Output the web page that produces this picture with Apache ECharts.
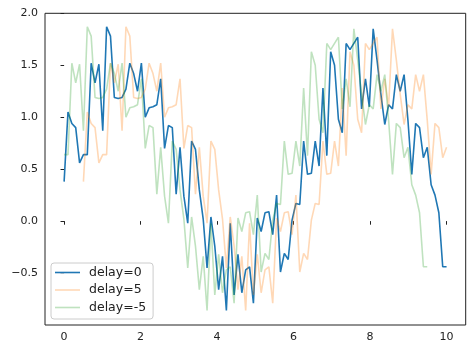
<!DOCTYPE html>
<html>
<head>
<meta charset="utf-8">
<script src="https://cdn.jsdelivr.net/npm/echarts@6/dist/echarts.min.js"></script>
<style>
  html, body { margin: 0; padding: 0; background: #fff; }
  #chart { width: 474px; height: 354px; }
</style>
</head>
<body>
<div id="chart"></div>
<script>
var sampleCount = 100;
var xStart = 0;
var xEnd = 10;

var signal = [
  0.38, 1.05, 0.94, 0.90, 0.56, 0.64, 0.64, 1.52, 1.33, 1.51,
  0.87, 1.87, 1.78, 1.19, 1.18, 1.19, 1.27, 1.52, 1.42, 1.25,
  1.52, 1.00, 1.09, 1.10, 1.12, 1.37, 0.70, 0.92, 0.90, 0.26,
  0.71, 0.24, -0.02, 0.77, 0.69, 0.30, 0.02, -0.45, 0.04, -0.24,
  -0.66, -0.34, -0.86, -0.02, -0.71, -0.32, -0.69, -0.47, -0.44, -0.79,
  0.03, -0.10, 0.08, 0.09, -0.13, 0.25, -0.49, -0.31, -0.37, 0.01,
  0.17, 0.16, 0.77, 0.45, 0.46, 0.77, 0.53, 1.28, 0.63, 1.63,
  1.50, 0.98, 0.85, 1.71, 1.65, 1.71, 1.77, 1.08, 1.37, 1.10,
  1.85, 1.55, 1.22, 0.93, 1.12, 1.08, 1.41, 1.25, 1.41, 0.97,
  0.45, 0.94, 0.90, 0.61, 0.71, 0.35, 0.25, 0.08, -0.44, -0.44
];

var delays = [0, 5, -5];
var seriesNames = ['delay=0', 'delay=5', 'delay=-5'];
var seriesColors = ['#1f77b4', 'rgba(255,127,14,0.3)', 'rgba(44,160,44,0.3)'];

var xTicks = [0, 2, 4, 6, 8, 10];
var yTicks = [-0.5, 0, 0.5, 1, 1.5, 2];

var xs = [];
for (var i = 0; i < sampleCount; i++) {
  xs.push(xStart + (xEnd - xStart) * i / (sampleCount - 1));
}

// shift the signal by d samples, keeping only the overlap
function delayed(d) {
  var pts = [];
  for (var i = 0; i < sampleCount; i++) {
    var j = i - d;
    if (j >= 0 && j < sampleCount) pts.push([xs[i], signal[j]]);
  }
  return pts;
}

function fmt(v) {
  return (v < 0 ? '\u2212' : '') + Math.abs(v).toFixed(1);
}

var font = 'DejaVu Sans';
var lineIcon = 'path://M0,0H25V1.6H0Z';
var chart = echarts.init(document.getElementById('chart'), null, { renderer: 'canvas' });

chart.setOption({
  animation: false,
  backgroundColor: '#ffffff',
  grid: {
    left: 45,
    top: 13.3,
    right: 8.3,
    bottom: 29,
    show: true,
    borderColor: '#222',
    borderWidth: 1,
    backgroundColor: 'transparent'
  },
  legend: {
    orient: 'vertical',
    left: 51,
    top: 263,
    data: seriesNames.map(function (n) { return { name: n, icon: lineIcon }; }),
    itemWidth: 25,
    itemHeight: 10,
    itemGap: 4.5,
    padding: [3, 7, 5, 4],
    backgroundColor: 'rgba(255,255,255,0.8)',
    borderColor: '#cccccc',
    borderWidth: 1,
    borderRadius: 3,
    itemStyle: { borderWidth: 0 },
    textStyle: {
      fontFamily: font,
      fontSize: 12.5,
      lineHeight: 13,
      color: '#222',
      padding: [0, 0, 0, 4]
    }
  },
  xAxis: {
    type: 'value',
    min: -0.5,
    max: 10.5,
    axisLine: { show: false },
    splitLine: { show: false },
    axisTick: {
      show: true,
      length: 3.6,
      customValues: xTicks,
      lineStyle: { color: '#222' }
    },
    axisLabel: {
      customValues: xTicks,
      margin: 7,
      fontFamily: font,
      fontSize: 11,
      color: '#222',
      formatter: function (v) { return String(v); }
    }
  },
  yAxis: {
    type: 'value',
    min: -1.0,
    max: 2.0,
    axisLine: { show: false },
    splitLine: { show: false },
    axisTick: {
      show: true,
      length: 3.6,
      customValues: yTicks,
      lineStyle: { color: '#222' }
    },
    axisLabel: {
      customValues: yTicks,
      margin: 7,
      fontFamily: font,
      fontSize: 11,
      color: '#222',
      formatter: fmt
    }
  },
  series: delays.map(function (d, k) {
    return {
      name: seriesNames[k],
      type: 'line',
      data: delayed(d),
      symbol: 'none',
      symbolSize: 0,
      showSymbol: false,
      color: seriesColors[k],
      lineStyle: { width: 1.6, color: seriesColors[k] },
      itemStyle: { color: seriesColors[k] },
      z: 2 + k
    };
  })
});
</script>
</body>
</html>
